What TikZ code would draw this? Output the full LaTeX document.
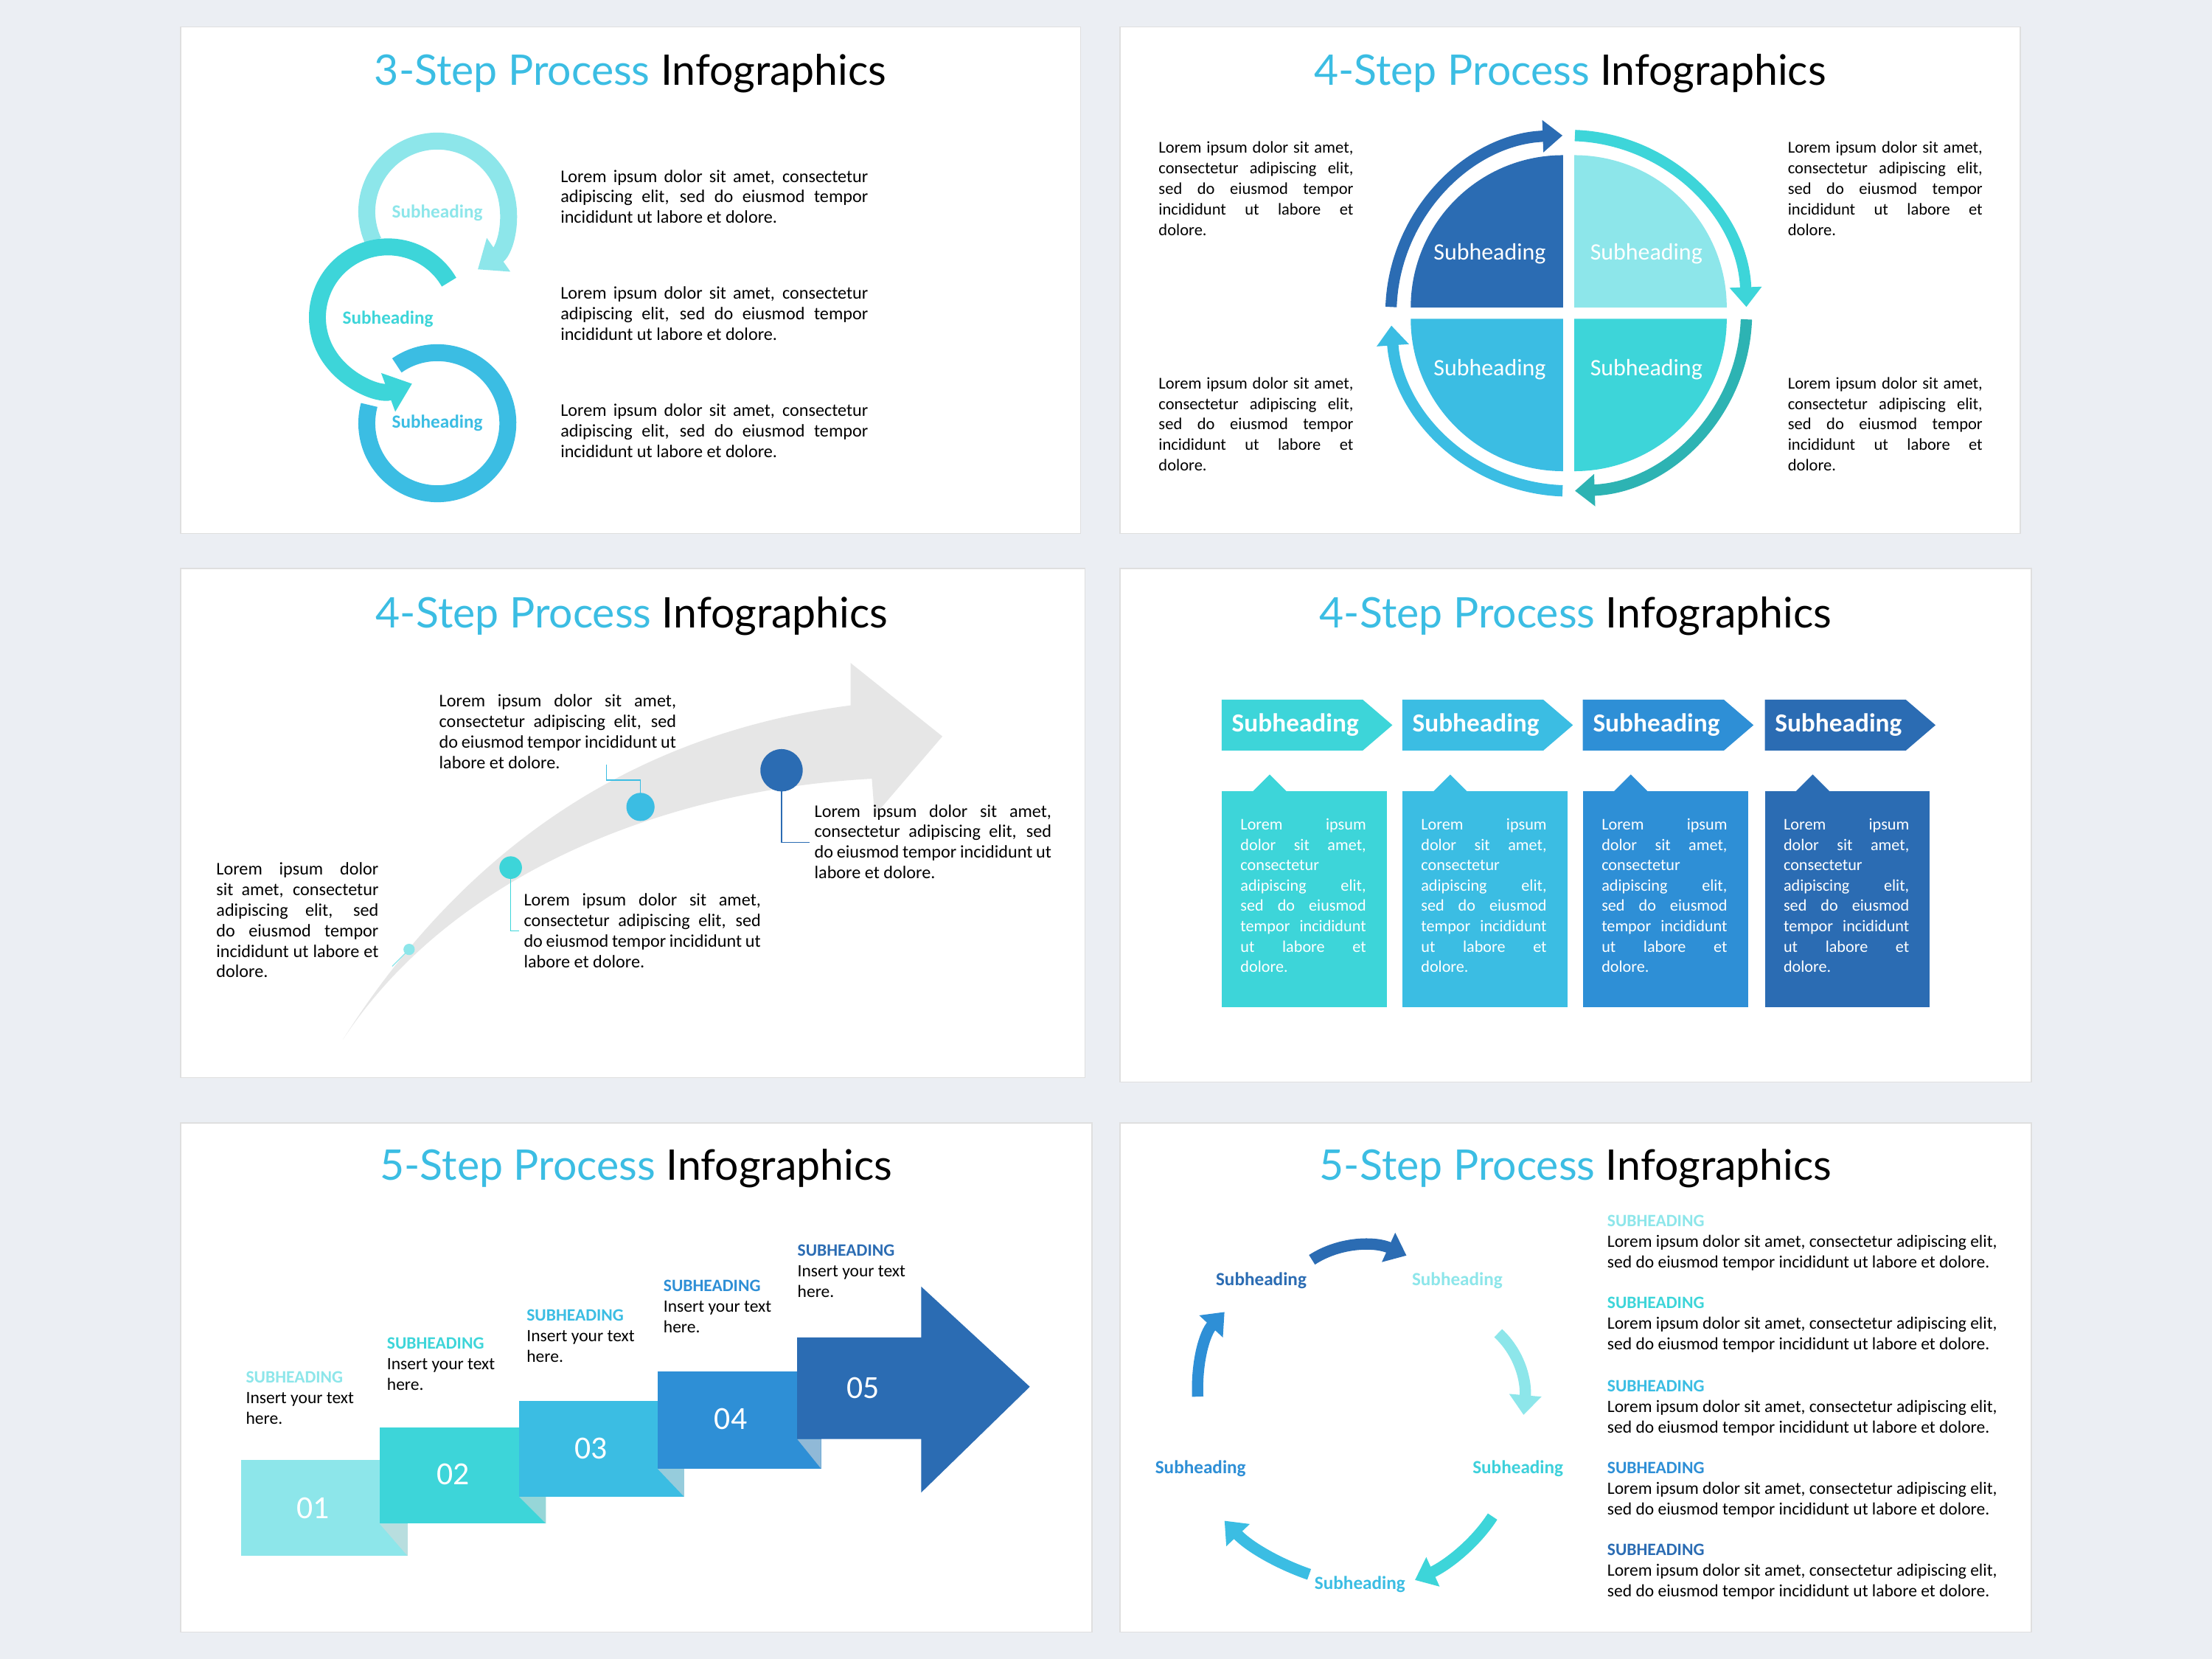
\documentclass[tikz,border=0pt]{standalone}
\usepackage{fontspec}
\setmainfont{Carlito}
\newfontfamily\ttlfont{Lato}
\usetikzlibrary{arrows.meta}
\definecolor{bg}{HTML}{EBEEF3}
\definecolor{cA}{HTML}{8DE6EA}
\definecolor{cB}{HTML}{3DD5D9}
\definecolor{cC}{HTML}{3BBDE3}
\definecolor{cD}{HTML}{2E8FD6}
\definecolor{cE}{HTML}{2B6CB3}
\definecolor{cT}{HTML}{2DB3B3}
\definecolor{gry}{HTML}{E6E6E6}
\tikzset{
 panel/.style={fill=white,draw=gray!25,line width=0.4pt},
 ttl/.style={font=\ttlfont\fontsize{17}{20}\selectfont,anchor=center},
 lor/.style={font=\fontsize{7.2}{8.3}\selectfont,align=justify,anchor=north west,inner sep=0pt},
 sub/.style={font=\bfseries\fontsize{7.5}{9}\selectfont,inner sep=0pt},
 ring/.style={line width=12*0.02cm,-{Triangle[length=18*0.02cm,width=28*0.02cm]}},
 carr/.style={line width=8*0.02cm,-{Triangle[length=14*0.02cm,width=22*0.02cm]}},
}
\def\lor{\lefthyphenmin=64 \righthyphenmin=64 \hyphenpenalty=10000 \relax Lorem ipsum dolor sit amet, consectetur adipiscing elit, sed do eiusmod tempor incididunt ut labore et dolore.}
\begin{document}
\lefthyphenmin=64 \righthyphenmin=64 \hyphenpenalty=10000
\begin{tikzpicture}[x=0.02cm,y=-0.02cm]
\fill[bg] (0,0) rectangle (1568,1176);
\useasboundingbox (0,0) rectangle (1568,1176);
\draw[panel] (128,19) rectangle (766,378);
\draw[panel] (794,19) rectangle (1432,378);
\draw[panel] (128,403) rectangle (769,764);
\draw[panel] (794,403) rectangle (1440,767);
\draw[panel] (128,796) rectangle (774,1157);
\draw[panel] (794,796) rectangle (1440,1157);
% titles
\node[ttl] (t1) at (447,52) {\textcolor{cC}{3-Step Process} Infographics};
\node[ttl] (t2) at (1113,52) {\textcolor{cC}{4-Step Process} Infographics};
\node[ttl] (t3) at (448,437) {\textcolor{cC}{4-Step Process} Infographics};
\node[ttl] (t4) at (1117,437) {\textcolor{cC}{4-Step Process} Infographics};
\node[ttl] (t5) at (451,828) {\textcolor{cC}{5-Step Process} Infographics};
\node[ttl] (t6) at (1117,828) {\textcolor{cC}{5-Step Process} Infographics};
% ---- panel 1
\draw[ring,cA] (310,150) ++(-205:50) arc (-205:55:50);
\draw[ring,cB] (275,225) ++(-30:50) arc (-30:-290:50);
\draw[ring,cC,-] (310,300) ++(-125:50) arc (-125:195:50);
\node[sub,text=cA] (s11) at (310,151) {Subheading};
\node[sub,text=cB] (s12) at (275,226) {Subheading};
\node[sub,text=cC] (s13) at (310,300) {Subheading};
\foreach \y in {120,203,286}{\node[lor,text width=218*0.02cm] at (397,\y) {\lor};}
% ---- panel 2
\fill[cE] (1108,218) -- (1000,218) arc (180:270:108) -- cycle;
\fill[cA] (1116,218) -- (1116,110) arc (-90:0:108) -- cycle;
\fill[cC] (1108,226) -- (1108,334) arc (90:180:108) -- cycle;
\fill[cB] (1116,226) -- (1224,226) arc (0:90:108) -- cycle;
\draw[carr,cE] (1112,222) ++(-178:126) arc (-178:-92:126);
\draw[carr,cB] (1112,222) ++(-88:126) arc (-88:-2:126);
\draw[carr,cT] (1112,222) ++(2:126) arc (2:88:126);
\draw[carr,cC] (1112,222) ++(92:126) arc (92:176:126);
\foreach \x/\y in {1056/180,1167/180,1056/262,1167/262}{\node[text=white,font=\fontsize{9.5}{11}\selectfont] at (\x,\y) {Subheading};}
\foreach \x/\y in {821/100,1267/100,821/267,1267/267}{\node[lor,text width=138*0.02cm,font=\fontsize{6.7}{8.3}\selectfont] at (\x,\y) {\lor};}
% ---- panel 3
\fill[gry] (243,737) .. controls (330,600) and (450,520) .. (603,500) -- (603,470) -- (668,522) -- (620,578) -- (618,552) .. controls (470,560) and (320,620) .. (243,737);
\draw[cA] (290,673) -- (278,685);
\draw[cB] (362,615) -- (362,660) -- (368,660);
\draw[cC] (454,572) -- (454,553) -- (430,553) -- (430,542);
\draw[cE] (554,546) -- (554,597) -- (574,597);
\fill[cA] (290,673) circle (4);
\fill[cB] (362,615) circle (8);
\fill[cC] (454,572) circle (10);
\fill[cE] (554,546) circle (15);
\node[lor,text width=115*0.02cm] at (153,611) {\lor};
\node[lor,text width=168*0.02cm] at (311,492) {\lor};
\node[lor,text width=168*0.02cm] at (371,633) {\lor};
\node[lor,text width=168*0.02cm] at (577,570) {\lor};
% ---- panel 4
\foreach \x/\c in {866/cB,994/cC,1122/cD,1251/cE}{
 \fill[\c] (\x,496) -- (\x+100,496) -- (\x+121,514) -- (\x+100,532) -- (\x,532) -- cycle;
 \node[text=white,font=\bfseries\fontsize{10.5}{12}\selectfont,anchor=west] at (\x+1,514) {Subheading};
 \fill[\c] (\x,561) rectangle (\x+117,714);
 \fill[\c] (\x+22,561) -- (\x+34,549) -- (\x+46,561) -- cycle;
 \node[lor,text=white,text width=89*0.02cm,font=\fontsize{6.6}{8.2}\selectfont] at (\x+13,580) {\lor};
}
% ---- panel 5
\fill[cA] (171,1035) rectangle (289,1103);
\fill[cA!70!gray!60] (269,1080) -- (289,1080) -- (289,1103) -- cycle;
\fill[cB] (269,1012) rectangle (387,1080);
\fill[cB!70!gray!60] (368,1061) -- (387,1061) -- (387,1080) -- cycle;
\fill[cC] (368,993) rectangle (485,1061);
\fill[cC!70!gray!60] (466,1041) -- (485,1041) -- (485,1061) -- cycle;
\fill[cD] (466,972) rectangle (582,1041);
\fill[cD!70!gray!60] (565,1020) -- (582,1020) -- (582,1041) -- cycle;
\fill[cE] (565,948) -- (653,948) -- (653,912) -- (730,983) -- (653,1058) -- (653,1020) -- (565,1020) -- cycle;
\foreach \x/\y/\t in {222/1069/01,321/1045/02,419/1027/03,518/1006/04,612/984/05}{\node[text=white,font=\fontsize{13}{15}\selectfont] at (\x,\y) {\t};}
\foreach \x/\y/\c in {174/972/cA,274/948/cB,373/928/cC,470/907/cD,565/882/cE}{
 \node[anchor=north west,inner sep=0pt,align=left,font=\fontsize{7}{8.3}\selectfont] at (\x,\y) {\textcolor{\c}{\bfseries SUBHEADING}\\Insert your text\\here.};}
% ---- panel 6
\draw[carr,cE] (930,893) .. controls (950,880) and (975,880) .. (997,890);
\draw[carr,cA] (1062,945) .. controls (1078,960) and (1082,980) .. (1080,1003);
\draw[carr,cB] (1058,1075) .. controls (1045,1095) and (1025,1110) .. (1003,1120);
\draw[carr,cC] (928,1116) .. controls (905,1108) and (885,1096) .. (868,1078);
\draw[carr,cD] (849,990) .. controls (848,965) and (854,945) .. (868,930);
\node[sub,text=cE] at (894,908) {Subheading};
\node[sub,text=cA] at (1033,908) {Subheading};
\node[sub,text=cB!80!cC] at (1076,1041) {Subheading};
\node[sub,text=cC] at (964,1123) {Subheading};
\node[sub,text=cD] at (851,1041) {Subheading};
\foreach \y/\c in {861/cA,919/cB,978/cC,1036/cD,1094/cE}{
 \node[anchor=north west,inner sep=0pt,align=left,font=\fontsize{7}{8.3}\selectfont] at (1139,\y) {\textcolor{\c}{\bfseries SUBHEADING}\\Lorem ipsum dolor sit amet, consectetur adipiscing elit,\\sed do eiusmod tempor incididunt ut labore et dolore.};}
\end{tikzpicture}
\end{document}
